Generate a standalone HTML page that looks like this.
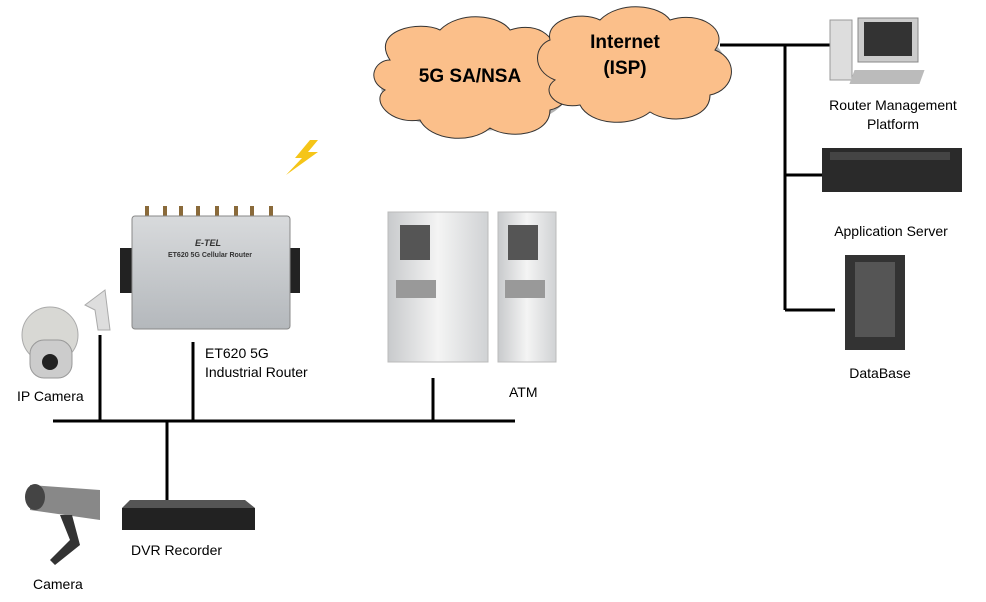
<!DOCTYPE html>
<html><head><style>
body{margin:0;background:#fff}
svg{display:block}
text{font-family:"Liberation Sans",Arial,sans-serif}
</style></head><body>
<svg width="986" height="602" viewBox="0 0 986 602">
<defs>
<linearGradient id="g1" x1="0" x2="0" y1="0" y2="1"><stop offset="0" stop-color="#d8dadc"/><stop offset="1" stop-color="#b4b8bc"/></linearGradient>
<linearGradient id="atm" x1="0" x2="1"><stop offset="0" stop-color="#c8cacc"/><stop offset="0.5" stop-color="#f4f4f4"/><stop offset="1" stop-color="#d0d2d4"/></linearGradient>
</defs>
<!-- clouds shadow -->
<g fill="#777" opacity="0.55" transform="translate(6,6)">
<ellipse cx="470" cy="80" rx="95" ry="45"/><ellipse cx="630" cy="60" rx="90" ry="45"/>
</g>
<g fill="#fbbf8a" stroke="#333" stroke-width="1">
<path d="M390 60 C370 30 420 20 440 30 C460 10 500 15 510 30 C540 20 560 40 555 60 C580 70 575 105 550 110 C550 135 510 140 490 128 C470 145 430 140 420 120 C390 125 370 100 385 90 C365 80 375 60 390 60Z"/>
<path d="M550 40 C545 20 580 10 600 20 C620 0 660 5 670 20 C700 10 730 30 715 50 C740 60 735 90 710 95 C710 120 670 125 650 112 C630 128 590 125 580 105 C555 110 540 90 555 80 C530 70 535 45 550 40Z"/>
</g>
<text x="470" y="82" font-size="19" font-weight="bold" text-anchor="middle">5G SA/NSA</text>
<text x="625" y="48" font-size="19" font-weight="bold" text-anchor="middle">Internet</text>
<text x="625" y="74" font-size="19" font-weight="bold" text-anchor="middle">(ISP)</text>
<!-- lightning -->
<path d="M310 140 L295 158 L302 158 L286 175 L318 152 L308 152 L318 140Z" fill="#f5c518"/>
<!-- lines -->
<g stroke="#000" stroke-width="3" fill="none">
<path d="M53 421H515M100 335V421M193 342V421M433 378V421M167 421V500"/>
<path d="M720 45H830M785 45V310M785 175H822M785 310H835"/>
</g>
<!-- router -->
<g fill="#8a6a3a"><rect x="145" y="206" width="4" height="12"/><rect x="163" y="206" width="4" height="12"/><rect x="179" y="206" width="4" height="12"/><rect x="196" y="206" width="4" height="12"/><rect x="215" y="206" width="4" height="12"/><rect x="234" y="206" width="4" height="12"/><rect x="250" y="206" width="4" height="12"/><rect x="269" y="206" width="4" height="12"/></g>
<rect x="120" y="248" width="180" height="45" fill="#222"/>
<rect x="132" y="216" width="158" height="113" rx="3" fill="url(#g1)" stroke="#888"/>
<text x="210" y="257" font-size="7" font-weight="bold" text-anchor="middle" fill="#333">ET620 5G Cellular Router</text>
<text x="195" y="246" font-size="9" font-style="italic" font-weight="bold" fill="#333">E-TEL</text>
<!-- ip camera -->
<path d="M85 305 L105 290 L110 330 L98 330 L95 310Z" fill="#ddd" stroke="#aaa"/>
<circle cx="50" cy="335" r="28" fill="#d8d8d4" stroke="#aaa"/>
<rect x="30" y="340" width="42" height="38" rx="14" fill="#ccc" stroke="#999"/>
<circle cx="50" cy="362" r="8" fill="#222"/>
<text x="17" y="401" font-size="14">IP Camera</text>
<text x="205" y="358" font-size="14">ET620 5G</text>
<text x="205" y="377" font-size="14">Industrial  Router</text>
<!-- ATM -->
<rect x="388" y="212" width="100" height="150" fill="url(#atm)" stroke="#bbb"/>
<rect x="498" y="212" width="58" height="150" fill="url(#atm)" stroke="#bbb"/>
<rect x="400" y="225" width="30" height="35" fill="#555"/><rect x="508" y="225" width="30" height="35" fill="#555"/>
<rect x="396" y="280" width="40" height="18" fill="#999"/><rect x="505" y="280" width="40" height="18" fill="#999"/>
<text x="509" y="397" font-size="14">ATM</text>
<!-- PC -->
<rect x="858" y="18" width="60" height="44" fill="#ccc" stroke="#888"/><rect x="864" y="22" width="48" height="34" fill="#333"/>
<rect x="830" y="20" width="22" height="60" fill="#ddd" stroke="#999"/>
<rect x="852" y="70" width="70" height="14" fill="#bbb" transform="skewX(-20) translate(28,0)"/>
<text x="893" y="110" font-size="14" text-anchor="middle">Router  Management</text>
<text x="893" y="129" font-size="14" text-anchor="middle">Platform</text>
<!-- server -->
<rect x="822" y="148" width="140" height="44" fill="#2a2a2a"/><rect x="830" y="152" width="120" height="8" fill="#444"/>
<text x="891" y="236" font-size="14" text-anchor="middle">Application Server</text>
<!-- database -->
<rect x="845" y="255" width="60" height="95" fill="#333"/><rect x="855" y="262" width="40" height="75" fill="#555"/>
<text x="880" y="378" font-size="14" text-anchor="middle">DataBase</text>
<!-- camera -->
<path d="M30 485 L100 490 L100 520 L30 510Z" fill="#888"/>
<ellipse cx="35" cy="497" rx="10" ry="13" fill="#444"/>
<path d="M60 515 L70 540 L50 560 L55 565 L80 545 L72 515Z" fill="#333"/>
<text x="33" y="589" font-size="14">Camera</text>
<!-- DVR -->
<path d="M130 500 L245 500 L255 508 L122 508Z" fill="#555"/>
<rect x="122" y="508" width="133" height="22" fill="#222"/>
<text x="131" y="555" font-size="14">DVR Recorder</text>
</svg>
</body></html>
